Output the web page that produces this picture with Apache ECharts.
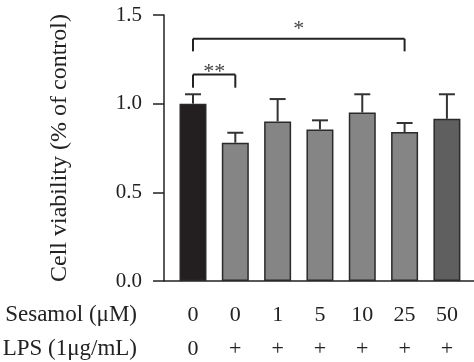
<!DOCTYPE html>
<html>
<head>
<meta charset="utf-8">
<script src="https://cdn.jsdelivr.net/npm/echarts@6/dist/echarts.min.js"></script>
<style>html,body{margin:0;padding:0;background:#fff;}#c{width:474px;height:362px;}</style>
</head>
<body>
<div id="c"></div>
<script>
var sesamol = ['0', '0', '1', '5', '10', '25', '50'];
var lps = ['0', '+', '+', '+', '+', '+', '+'];
var means = [1.00, 0.78, 0.90, 0.855, 0.95, 0.84, 0.915];
var errTops = [1.053, 0.836, 1.026, 0.906, 1.053, 0.891, 1.053];
var barColors = ['#231f20', '#858585', '#858585', '#858585', '#858585', '#858585', '#5f5f5f'];
// significance brackets
var bracketFrom = [0, 0];
var bracketTo = [1, 5];
var bracketLine = [1.164, 1.366];
var bracketLeg = [1.09, 1.295];
var bracketLabelY = [1.203, 1.446];
var bracketLabel = ['**', '*'];
var rowTitles = ['Sesamol (\u03bcM)', 'LPS (1\u03bcg/mL)'];

var FONT = '"Liberation Serif", "DejaVu Serif", serif';
var idx = sesamol.map(function (_, i) { return i; });

var chart = echarts.init(document.getElementById('c'), null, {renderer: 'canvas'});
chart.setOption({
  animation: false,
  grid: {left: 164, right: 0, top: 15, bottom: 81, containLabel: false, outerBoundsMode: 'none'},
  xAxis: {
    type: 'value', min: -0.685, max: 6.64,
    splitLine: {show: false},
    axisLine: {show: true, onZero: false, lineStyle: {color: '#222', width: 1.5}},
    axisTick: {show: false},
    axisLabel: {
      customValues: idx,
      margin: 17,
      fontFamily: FONT, fontSize: 22, color: '#222', lineHeight: 34,
      formatter: function (v) { var i = Math.round(v); return sesamol[i] + '\n' + lps[i]; }
    }
  },
  yAxis: {
    type: 'value', min: 0, max: 1.5, interval: 0.5,
    name: 'Cell viability (% of control)',
    nameLocation: 'middle', nameGap: 92, nameRotate: 90,
    nameTextStyle: {fontFamily: FONT, fontSize: 24, color: '#222'},
    splitLine: {show: false},
    axisLine: {show: true, onZero: false, lineStyle: {color: '#222', width: 1.5}},
    axisTick: {show: true, length: 11, lineStyle: {color: '#222', width: 1.5}},
    axisLabel: {
      margin: 22, fontFamily: FONT, fontSize: 21, color: '#222',
      formatter: function (v) { return v.toFixed(1); }
    }
  },
  graphic: rowTitles.map(function (t, i) {
    return {
      type: 'text', x: 137, y: 315 + i * 34,
      style: {text: t, font: '23px ' + FONT, fill: '#222', textAlign: 'right', textVerticalAlign: 'middle'}
    };
  }),
  series: [
    {
      type: 'custom',
      z: 1,
      data: idx.map(function (i) { return [i, errTops[i]]; }),
      renderItem: function (params, api) {
        var i = params.dataIndex;
        var top = api.coord([i, errTops[i]]);
        var mid = api.coord([i, means[i]]);
        return {
          type: 'group',
          children: [
            {type: 'line', shape: {x1: top[0], y1: top[1], x2: mid[0], y2: mid[1]}, style: {stroke: '#333', lineWidth: 2}},
            {type: 'line', shape: {x1: top[0] - 8, y1: top[1], x2: top[0] + 8, y2: top[1]}, style: {stroke: '#333', lineWidth: 2}}
          ]
        };
      }
    },
    {
      type: 'bar',
      z: 2,
      barWidth: 27,
      data: idx.map(function (i) {
        return {value: [i, means[i]], itemStyle: {color: barColors[i], borderColor: '#2a2a2a', borderWidth: 1.5}};
      })
    },
    {
      type: 'custom',
      z: 3,
      data: bracketFrom.map(function (f, k) { return [f, bracketLine[k]]; }),
      renderItem: function (params, api) {
        var k = params.dataIndex;
        var p1 = api.coord([bracketFrom[k], bracketLine[k]]);
        var p2 = api.coord([bracketTo[k], bracketLine[k]]);
        var legY = api.coord([bracketFrom[k], bracketLeg[k]])[1];
        var labY = api.coord([bracketFrom[k], bracketLabelY[k]])[1];
        var st = {stroke: '#222', lineWidth: 2};
        return {
          type: 'group',
          children: [
            {type: 'line', shape: {x1: p1[0], y1: legY, x2: p1[0], y2: p1[1]}, style: st},
            {type: 'line', shape: {x1: p1[0], y1: p1[1], x2: p2[0], y2: p2[1]}, style: st},
            {type: 'line', shape: {x1: p2[0], y1: p2[1], x2: p2[0], y2: legY}, style: st},
            {type: 'text', x: (p1[0] + p2[0]) / 2, y: labY + 5, style: {text: bracketLabel[k], font: '22px ' + FONT, fill: '#444', textAlign: 'center', textVerticalAlign: 'middle'}}
          ]
        };
      }
    }
  ]
});
</script>
</body>
</html>
